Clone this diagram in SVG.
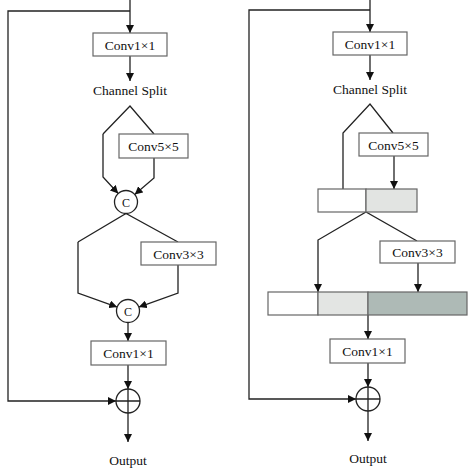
<svg xmlns="http://www.w3.org/2000/svg" width="474" height="474" viewBox="0 0 474 474">
<defs>
<marker id="ah" markerWidth="8" markerHeight="8" refX="8" refY="4" orient="auto" markerUnits="userSpaceOnUse">
<path d="M0,0 L8,4 L0,8 Z" fill="#111"/>
</marker>
<style>
.ln{fill:none;stroke:#222;stroke-width:1.3}
.bx{fill:#fff;stroke:#666;stroke-width:1.2}
.tx{font-family:"Liberation Serif",serif;font-size:13.5px;fill:#111;text-anchor:middle}
.ci{fill:#fff;stroke:#222;stroke-width:1.3}
</style>
</defs>
<rect width="474" height="474" fill="#fff"/>
<g id="connectors">
<!-- left panel -->
<path class="ln" d="M130,0 V33" marker-end="url(#ah)"/>
<path class="ln" d="M130,11 H8 V401 H116" marker-end="url(#ah)"/>
<path class="ln" d="M130,56 V81" marker-end="url(#ah)"/>
<path class="ln" d="M103,134 L130,106 L154,134"/>
<path class="ln" d="M103,134 V177 L118.2,193.5" marker-end="url(#ah)"/>
<path class="ln" d="M154,158 V178 L134.7,194.5" marker-end="url(#ah)"/>
<path class="ln" d="M78,242 L126,213.5 L178,242"/>
<path class="ln" d="M78,242 V293 L117.2,307.1" marker-end="url(#ah)"/>
<path class="ln" d="M178,265 V293 L138.8,307.1" marker-end="url(#ah)"/>
<path class="ln" d="M128,322.5 V341" marker-end="url(#ah)"/>
<path class="ln" d="M128,365 V389" marker-end="url(#ah)"/>
<path class="ln" d="M128,413 V442" marker-end="url(#ah)"/>
<!-- right panel -->
<path class="ln" d="M370,0 V32" marker-end="url(#ah)"/>
<path class="ln" d="M370,10 H249 V399 H356" marker-end="url(#ah)"/>
<path class="ln" d="M370,55 V80" marker-end="url(#ah)"/>
<path class="ln" d="M343,189 V133 L370,104 L393,133"/>
<path class="ln" d="M394,156 V189" marker-end="url(#ah)"/>
<path class="ln" d="M417,241 L366,212 L318,240 V292" marker-end="url(#ah)"/>
<path class="ln" d="M418,263 V292" marker-end="url(#ah)"/>
<path class="ln" d="M368,315 V339" marker-end="url(#ah)"/>
<path class="ln" d="M368,363 V387" marker-end="url(#ah)"/>
<path class="ln" d="M368,411 V441" marker-end="url(#ah)"/>
</g>
<!-- left nodes -->
<g id="L_conv1">
<rect class="bx" x="93" y="33" width="74" height="23"/>
<text class="tx" x="130" y="49.5">Conv1×1</text>
</g>
<g id="L_split"><text class="tx" x="130" y="95">Channel Split</text></g>
<g id="L_conv5">
<rect class="bx" x="119" y="134" width="69" height="24"/>
<text class="tx" x="153.5" y="150.5">Conv5×5</text>
</g>
<g id="L_c1">
<circle class="ci" cx="126" cy="202" r="11.5"/>
<text class="tx" x="126" y="206.5" style="font-size:12px">C</text>
</g>
<g id="L_conv3">
<rect class="bx" x="141" y="242" width="75" height="23"/>
<text class="tx" x="178.5" y="258.5">Conv3×3</text>
</g>
<g id="L_c2">
<circle class="ci" cx="128" cy="311" r="11.5"/>
<text class="tx" x="128" y="315.5" style="font-size:12px">C</text>
</g>
<g id="L_conv1b">
<rect class="bx" x="91" y="341" width="75" height="24"/>
<text class="tx" x="128.5" y="357.5">Conv1×1</text>
</g>
<g id="L_add">
<circle class="ci" cx="128" cy="401" r="12"/>
<path class="ln" d="M116,401 H140 M128,389 V413"/>
</g>
<g id="L_out"><text class="tx" x="128" y="465">Output</text></g>
<!-- right nodes -->
<g id="R_conv1">
<rect class="bx" x="333" y="32" width="74" height="23"/>
<text class="tx" x="370" y="48.5">Conv1×1</text>
</g>
<g id="R_split"><text class="tx" x="370" y="94">Channel Split</text></g>
<g id="R_conv5">
<rect class="bx" x="359" y="133" width="69" height="23"/>
<text class="tx" x="393.5" y="149.5">Conv5×5</text>
</g>
<g id="R_bar1">
<rect x="318" y="189" width="48" height="23" fill="#fff" stroke="#666" stroke-width="1.2"/>
<rect x="366" y="189" width="51" height="23" fill="#e2e4e2" stroke="#666" stroke-width="1.2"/>
</g>
<g id="R_conv3">
<rect class="bx" x="380" y="241" width="75" height="22"/>
<text class="tx" x="417.5" y="257">Conv3×3</text>
</g>
<g id="R_bar2">
<rect x="268" y="292" width="50" height="23" fill="#fff" stroke="#666" stroke-width="1.2"/>
<rect x="318" y="292" width="50" height="23" fill="#e3e5e3" stroke="#666" stroke-width="1.2"/>
<rect x="368" y="292" width="99" height="23" fill="#aebab6" stroke="#666" stroke-width="1.2"/>
</g>
<g id="R_conv1b">
<rect class="bx" x="330" y="339" width="75" height="24"/>
<text class="tx" x="367.5" y="355.5">Conv1×1</text>
</g>
<g id="R_add">
<circle class="ci" cx="368" cy="399" r="12"/>
<path class="ln" d="M356,399 H380 M368,387 V411"/>
</g>
<g id="R_out"><text class="tx" x="368" y="463">Output</text></g>
</svg>
